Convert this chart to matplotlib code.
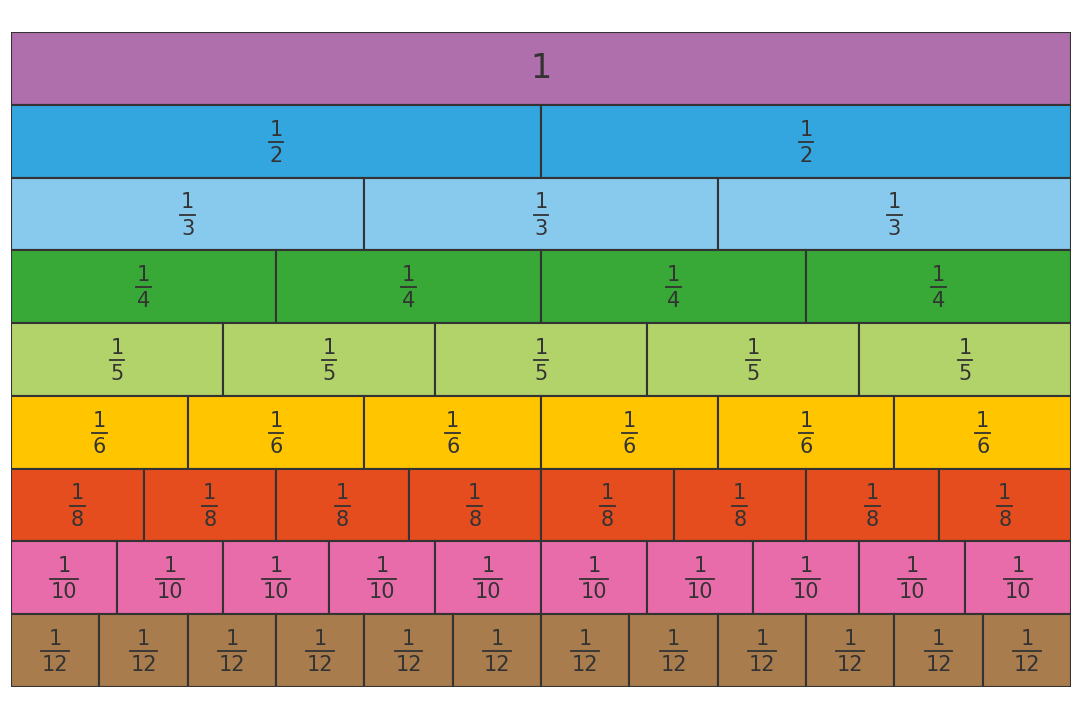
import matplotlib
matplotlib.use("Agg")
import matplotlib.pyplot as plt

denominators = [1, 2, 3, 4, 5, 6, 8, 10, 12]
colors = ["#AE6FAC", "#33A6DF", "#88C9EE", "#38A836", "#B2D36A",
          "#FFC600", "#E54D1F", "#E86BAA", "#A97C4E"]

fig = plt.figure(figsize=(10.8, 7.2), dpi=100)
ax = fig.add_axes([0.0102, 0.0458, 0.9815, 0.9097])
ax.set_xlim(0, 1)
n = len(denominators)
ax.set_ylim(0, n)
ax.axis("off")
tc = "#333333"
for r, (d, c) in enumerate(zip(denominators, colors)):
    y0 = n - r - 1
    w = 1.0 / d
    ax.barh([y0 + 0.5] * d, [w] * d, left=[i * w for i in range(d)], height=1.0,
            color=c, edgecolor="#333333", linewidth=1.5)
    for i in range(d):
        cx = (i + 0.5) * w
        if d == 1:
            ax.text(cx, y0 + 0.5, "1", ha="center", va="center", fontsize=24, color=tc)
            continue
        ax.text(cx, y0 + 0.66, "1", ha="center", va="center", fontsize=15, color=tc)
        ax.text(cx, y0 + 0.30, str(d), ha="center", va="center", fontsize=15, color=tc)
        hw = 0.007 if d < 10 else 0.013
        ax.plot([cx - hw, cx + hw], [y0 + 0.49, y0 + 0.49], color=tc, lw=1.3)
fig.savefig("out.png", dpi=100)
